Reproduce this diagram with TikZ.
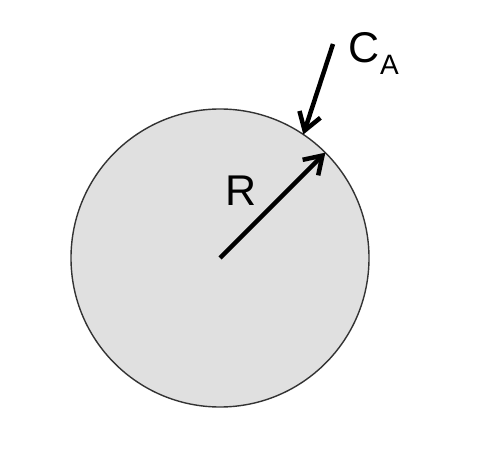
\documentclass[tikz,border=0pt]{standalone}
\usepackage{fontspec}
\setmainfont{Liberation Sans}
\usetikzlibrary{arrows.meta}
\begin{document}
\begin{tikzpicture}[x=1pt,y=-1pt,
  ballstyle/.style={circle, draw=black!80, line width=1.4pt, fill=black!12, minimum size=298pt, inner sep=0pt, outer sep=0pt},
  vecarrow/.style={line width=4.5pt, -{Straight Barb[length=17pt,width=22pt]}},
  bigtext/.style={inner sep=0pt, outer sep=0pt, anchor=base west, font=\fontsize{43}{50}\selectfont}]
\useasboundingbox (0,0) rectangle (478,454);
\node[ballstyle] (ball) at (220,258) {};
\coordinate (castart) at (333,44);
\draw[vecarrow] (ball.center) -- (ball.45);
\draw[vecarrow] (castart) -- (ball.56);
\node[bigtext] (rlabel) at (225,205) {R};
\node[bigtext] (calabel) at (348,63) {C\kern1pt\raisebox{-12pt}{\fontsize{28}{30}\selectfont A}};
\end{tikzpicture}
\end{document}
